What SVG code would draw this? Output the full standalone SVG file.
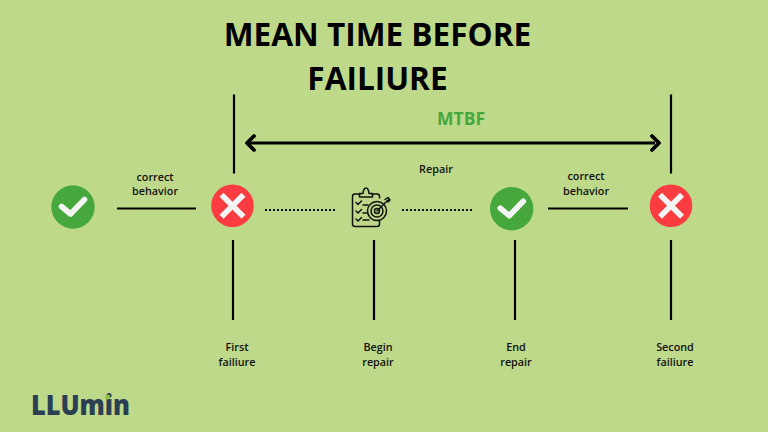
<svg xmlns="http://www.w3.org/2000/svg" width="768" height="432" viewBox="0 0 768 432">
<style>
.t{font-family:"Open Sans","Liberation Sans",sans-serif;fill:#111;text-anchor:middle}
.h{font-size:31.6px;font-weight:700;fill:#000}
.s{font-size:10.8px;font-weight:600}
.l{stroke:#000;stroke-width:2.2;fill:none}
.d{stroke:#111;stroke-width:1.8;fill:none;stroke-dasharray:2 2}
.w{stroke:#f4f4f4;fill:none;stroke-width:5.6}
.ic{stroke:#111;fill:none;stroke-width:1.5;stroke-linecap:round;stroke-linejoin:round}
</style>
<defs>
<g id="ok"><circle r="21.7" fill="#46a83c"/><path class="w" stroke-linecap="round" stroke-linejoin="round" d="M-11.500 -0.500L-2.500 7L11.500 -7.500"/></g>
<g id="no"><circle r="21.3" fill="#fb3c40"/><path class="w" d="M-11 -11L11 11M11 -11L-11 11"/></g>
</defs>
<rect width="768" height="432" fill="#bfd98a"/>
<g id="title">
<text class="t h" x="377.500" y="46">MEAN TIME BEFORE</text>
<text class="t h" x="377.500" y="90">FAILIURE</text>
</g>
<g id="connectors">
<path class="l" d="M234 94.500V173.500M671 94.500V173.500"/>
<path d="M250 143H655" fill="none" stroke="#000" stroke-width="3.200"/>
<path d="M254 136L247 143L254 150M652 136L659 143L652 150" fill="none" stroke="#000" stroke-width="3.800" stroke-linecap="round" stroke-linejoin="round"/>
<path class="l" d="M117 208.500H196M548 208.500H628"/>
<path class="d" d="M265 210H335M402 210H472"/>
<path class="l" d="M233 240V320M374 240V320M515 240V320M671 240V320"/>
</g>
<g id="mtbf"><text class="t" x="461" y="125" font-size="17.500" font-weight="700" style="fill:#46a83c">MTBF</text></g>
<g id="repair-label"><text class="t s" x="436" y="173">Repair</text></g>
<g id="behavior-1"><text class="t s" x="155" y="181">correct</text><text class="t s" x="155" y="195">behavior</text></g>
<g id="behavior-2"><text class="t s" x="586" y="180">correct</text><text class="t s" x="586" y="195">behavior</text></g>
<g id="start-ok"><use href="#ok" x="73" y="207"/></g>
<g id="first-fail"><use href="#no" x="232.500" y="205.700"/></g>
<g id="begin-repair">
<path class="ic" d="M360 194H355Q352.500 194 352.500 196.500V224Q352.500 226.500 355 226.500H377Q379.500 226.500 379.500 224V221M379.500 198V196.500Q379.500 194 377 194H372"/>
<path class="ic" d="M359.500 197V193.500H363Q363.500 188 366 188Q368.500 188 369 193.500H372.500V197Z"/>
<path class="ic" d="M356 202.500L358 204.500L361.500 201M356 211L358 213L361.500 209.500M356 219L358 221L361.500 217.500M363 205H368M363 213H367M363 220H369"/>
<circle class="ic" cx="377" cy="211" r="9.500"/><circle class="ic" cx="377" cy="211" r="6"/><circle class="ic" cx="377" cy="211" r="2.500"/>
<path class="ic" d="M377 211L388 200M385 199.500L388 197.500L390 200L388 202"/>
</g>
<g id="end-ok"><use href="#ok" x="511.700" y="208.700"/></g>
<g id="second-fail"><use href="#no" x="671" y="205.700"/></g>
<g id="first-label"><text class="t s" x="237" y="351">First</text><text class="t s" x="237" y="366">failiure</text></g>
<g id="begin-label"><text class="t s" x="378" y="351">Begin</text><text class="t s" x="378" y="366">repair</text></g>
<g id="end-label"><text class="t s" x="516" y="351">End</text><text class="t s" x="516" y="366">repair</text></g>
<g id="second-label"><text class="t s" x="675" y="351">Second</text><text class="t s" x="675" y="366">failiure</text></g>
<g id="logo"><text x="31" y="415" font-family="'Open Sans','Liberation Sans',sans-serif" font-size="29" font-weight="800" fill="#2a3f54" textLength="99" lengthAdjust="spacingAndGlyphs">LLUmin</text><circle cx="107.500" cy="397" r="2.500" fill="#8cc63f"/></g>
</svg>
